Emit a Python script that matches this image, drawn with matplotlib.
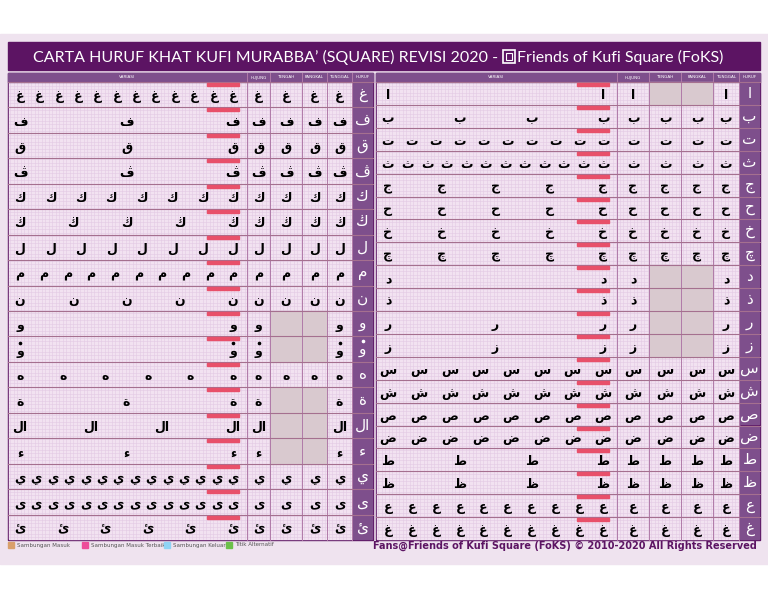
import matplotlib.pyplot as plt
import matplotlib.patches as mp
import numpy as np

plt.rcParams['font.family'] = ['DejaVu Sans', 'Noto Sans', 'Liberation Sans', 'Lato']

# === data ===
# "ݢ" and "ۏ" have no glyph in installed fonts: ga is written with the older Jawi
# form ڬ, and va is drawn as و with its dot added separately
left_letters = ["غ", "ف", "ق", "ڤ", "ك", "ڬ", "ل", "م", "ن", "و", "و", "ه", "ة", "لا", "ء", "ي", "ى", "ئ"]
left_dotted = [10]                       # rows whose letter gets an extra dot above (ۏ)
left_variants = [12, 3, 3, 3, 8, 5, 8, 10, 5, 2, 2, 6, 3, 4, 3, 14, 14, 6]
left_gray = [9, 10, 12, 13, 14]          # rows without tengah/pangkal forms
right_letters = ["ا", "ب", "ت", "ث", "ج", "ح", "خ", "چ", "د", "ذ", "ر", "ز",
                 "س", "ش", "ص", "ض", "ط", "ظ", "ع", "غ"]
right_variants = [2, 4, 10, 12, 5, 5, 5, 5, 2, 2, 3, 3, 8, 8, 8, 8, 4, 4, 10, 10]
right_gray = [0, 8, 9, 10, 11]
headers = ["HUJUNG", "TENGAH", "PANGKAL", "TUNGGAL", "HURUF"]
legend_labels = ["Sambungan Masuk", "Sambungan Masuk Terbaik", "Sambungan Keluar", "Titik Alternatif"]
legend_colors = ["#d9a06b", "#ee4d9a", "#8fd3f5", "#6cc04a"]

PURPLE = "#5c1463"
HEAD = "#7e4f8c"
CELL = "#f2e2f1"
GRAYC = "#d9c9cf"

fig = plt.figure(figsize=(7.68, 5.94), dpi=100)
ax = fig.add_axes([0, 0, 1, 1])
ax.set_xlim(0, 768)
ax.set_ylim(594, 0)
ax.axis("off")
fig.patch.set_facecolor("white")
ax.add_patch(mp.Rectangle((0, 34), 768, 530, color="#efe3ef", zorder=0))
ax.add_patch(mp.Rectangle((8, 42), 752, 28, color=PURPLE, zorder=1))
ax.text(498, 57, "CARTA HURUF KHAT KUFI MURABBA\u2019 (SQUARE) REVISI 2020 -",
        color="white", fontsize=11.5, ha="right", va="center", family="Lato", zorder=2)
# little FoKS logo square
ax.add_patch(mp.Rectangle((503, 50), 12, 13, fill=False, ec="white", lw=1.2, zorder=2))
ax.add_patch(mp.Rectangle((506, 53), 6, 7, fill=False, ec="white", lw=0.8, zorder=2))
ax.text(517, 57, "Friends of Kufi Square (FoKS)",
        color="white", fontsize=11.5, ha="left", va="center", family="Lato", zorder=2)


def glyph(x, y, s, dotted, **kw):
    ax.text(x, y, s, ha="center", va="center", zorder=3, **kw)
    if dotted:
        ax.plot([x], [y - 8], "o", ms=1.6, color=kw.get("color", "black"), zorder=3)


def panel(x0, x1, cols, letters, variants, gray, dotted):
    y0, y1 = 73, 540
    hh = 9
    n = len(letters)
    rh = (y1 - y0 - hh) / n
    ax.add_patch(mp.Rectangle((x0, y0), x1 - x0, y1 - y0, color=PURPLE, zorder=1))
    ax.add_patch(mp.Rectangle((x0 + 1, y0 + hh), cols[-2] - x0 - 1, y1 - y0 - hh - 1, color=CELL, zorder=1))
    # faint grid
    for gx in np.arange(x0 + 2, cols[-2], 3.5):
        ax.plot([gx, gx], [y0 + hh, y1 - 1], color="#e2c9e4", lw=0.4, zorder=1.2)
    for gy in np.arange(y0 + hh, y1, 3.5):
        ax.plot([x0 + 1, cols[-2]], [gy, gy], color="#e2c9e4", lw=0.4, zorder=1.2)
    # header
    ax.add_patch(mp.Rectangle((x0, y0), x1 - x0, hh, color=HEAD, zorder=2))
    ax.text((x0 + cols[0]) / 2, y0 + hh / 2, "VARIASI", color="white", fontsize=3, ha="center", va="center", zorder=3)
    for i, h in enumerate(headers):
        ax.text((cols[i] + cols[i + 1]) / 2, y0 + hh / 2, h, color="white", fontsize=3,
                ha="center", va="center", zorder=3)
        ax.plot([cols[i], cols[i]], [y0, y1], color="#b07aa8", lw=0.7, zorder=2.5)
    for r in range(n):
        ry = y0 + hh + r * rh
        d = r in dotted
        ax.plot([x0, x1], [ry, ry], color="#a5708f", lw=0.8, zorder=2.5)
        ax.add_patch(mp.Rectangle((cols[-2] + 1, ry + 1), x1 - cols[-2] - 2, rh - 2, color=HEAD, zorder=2))
        glyph((cols[-2] + x1) / 2, ry + rh / 2, letters[r], d, color="white", fontsize=11)
        if r in gray:
            ax.add_patch(mp.Rectangle((cols[1], ry), cols[3] - cols[1], rh, color=GRAYC, zorder=2))
        for c in range(4):
            if r in gray and c in (1, 2):
                continue
            glyph((cols[c] + cols[c + 1]) / 2, ry + rh / 2 + 2, letters[r], d,
                  color="black", fontsize=9, fontweight="bold")
        k = variants[r]
        xs = np.linspace(x0 + 12, cols[0] - 14, k) if k > 1 else [x0 + 12]
        for xv in xs:
            glyph(xv, ry + rh / 2 + 2, letters[r], d, color="black", fontsize=9, fontweight="bold")
        ax.add_patch(mp.Rectangle((cols[0] - 40, ry + 1), 32, 3, color="#e8506a", zorder=3))


panel(8, 373, [247, 270, 302, 327, 352, 373], left_letters, left_variants, left_gray, left_dotted)
panel(376, 760, [617, 649, 681, 713, 739, 760], right_letters, right_variants, right_gray, [])

# legend
lx = [8, 82, 164, 226]
for x, lab, col in zip(lx, legend_labels, legend_colors):
    ax.add_patch(mp.Rectangle((x, 542), 6, 6, color=col, zorder=2))
    ax.text(x + 9, 545, lab, fontsize=4, color="#555555", va="center", zorder=2)
ax.text(757, 546, "Fans@Friends of Kufi Square (FoKS) \u00a9 2010-2020 All Rights Reserved",
        fontsize=7, fontweight="bold", color=PURPLE, ha="right", va="center", zorder=2)

fig.savefig("out.png", dpi=100)
